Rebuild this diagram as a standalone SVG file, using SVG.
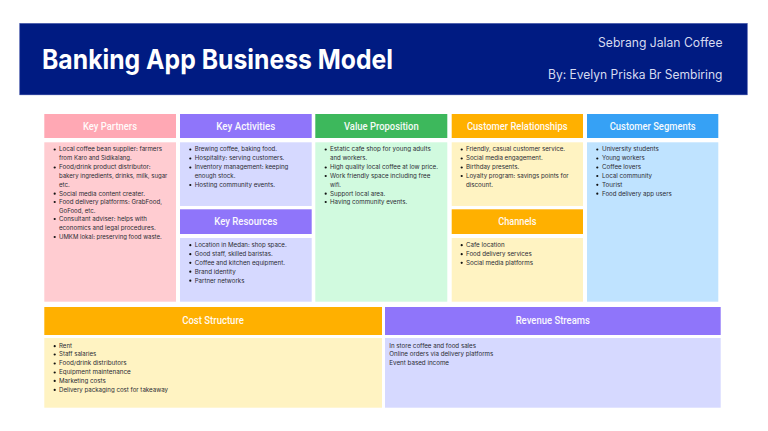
<svg xmlns="http://www.w3.org/2000/svg" width="768" height="431" viewBox="0 0 768 431">
<style>
text{font-family:"Inter","Liberation Sans",sans-serif}
.h{font-family:"Roboto","Liberation Sans",sans-serif;font-size:10px;font-weight:500;fill:#fff;opacity:.95;text-anchor:middle}
.b{font-size:5.5px;fill:#2c2c34}
.d{fill:#111}
.pink{fill:#ffa8b4}.pinkb{fill:#ffccd1}
.pur{fill:#8f75fa}.purb{fill:#d6d9ff}
.grn{fill:#3db85c}.grnb{fill:#d1fadf}
.org{fill:#ffb000}.orgb{fill:#fff3c2}
.blu{fill:#36a1f5}.blub{fill:#bfe3ff}
</style>
<rect width="768" height="431" fill="#fff"/>
<g id="banner">
<rect x="19.8" y="23.6" width="727.4" height="71.2" fill="#001b82" stroke="#22399a" stroke-width=".6"/>
<text x="42" y="69" font-size="27.5" font-weight="700" fill="#fff" textLength="351" lengthAdjust="spacingAndGlyphs">Banking App Business Model</text>
<text x="598" y="47" font-size="12.5" fill="#d5daf0" textLength="124.5" lengthAdjust="spacingAndGlyphs">Sebrang Jalan Coffee</text>
<text x="548" y="79" font-size="12.5" fill="#d5daf0" textLength="174.5" lengthAdjust="spacingAndGlyphs">By: Evelyn Priska Br Sembiring</text>
</g>
<g id="key-partners">
<rect class="pink" x="44.3" y="114" width="131.7" height="24"/>
<rect class="pinkb" x="44.3" y="142.3" width="131.7" height="159.4"/>
<text class="h" x="110" y="129.6" textLength="54" lengthAdjust="spacingAndGlyphs">Key Partners</text>
<circle class="d" cx="54.7" cy="149.5" r="1.1"/><circle class="d" cx="54.7" cy="167.5" r="1.1"/><circle class="d" cx="54.7" cy="193.7" r="1.1"/><circle class="d" cx="54.7" cy="202" r="1.1"/><circle class="d" cx="54.7" cy="219" r="1.1"/><circle class="d" cx="54.7" cy="237" r="1.1"/>
<text class="b" x="59" y="151.4" textLength="103" lengthAdjust="spacingAndGlyphs">Local coffee bean supplier: farmers</text>
<text class="b" x="59" y="160.4" textLength="72.7" lengthAdjust="spacingAndGlyphs">from Karo and Sidikalang.</text>
<text class="b" x="59" y="169.4" textLength="91.7" lengthAdjust="spacingAndGlyphs">Food/drink product distributor:</text>
<text class="b" x="59" y="178" textLength="108.3" lengthAdjust="spacingAndGlyphs">bakery ingredients, drinks, milk, sugar</text>
<text class="b" x="59" y="186.8" textLength="10.7" lengthAdjust="spacingAndGlyphs">etc.</text>
<text class="b" x="59" y="195.7" textLength="86" lengthAdjust="spacingAndGlyphs">Social media content creater.</text>
<text class="b" x="59" y="204" textLength="103" lengthAdjust="spacingAndGlyphs">Food delivery platforms: GrabFood,</text>
<text class="b" x="59" y="213" textLength="36.5" lengthAdjust="spacingAndGlyphs">GoFood, etc.</text>
<text class="b" x="59" y="221" textLength="88" lengthAdjust="spacingAndGlyphs">Consultant adviser: helps with</text>
<text class="b" x="59" y="230" textLength="96.7" lengthAdjust="spacingAndGlyphs">economics and legal procedures.</text>
<text class="b" x="59" y="239" textLength="102.7" lengthAdjust="spacingAndGlyphs">UMKM lokal: preserving food waste.</text>
</g>
<g id="key-activities">
<rect class="pur" x="180" y="114" width="131.7" height="24"/>
<rect class="purb" x="180" y="142.3" width="131.7" height="63.7"/>
<text class="h" x="245.8" y="129.6" textLength="59" lengthAdjust="spacingAndGlyphs">Key Activities</text>
<circle class="d" cx="190.3" cy="149.5" r="1.1"/><circle class="d" cx="190.3" cy="158.5" r="1.1"/><circle class="d" cx="190.3" cy="167.5" r="1.1"/><circle class="d" cx="190.3" cy="185" r="1.1"/>
<text class="b" x="194.7" y="151.4" textLength="82.3" lengthAdjust="spacingAndGlyphs">Brewing coffee, baking food.</text>
<text class="b" x="194.7" y="160.4" textLength="89.7" lengthAdjust="spacingAndGlyphs">Hospitality: serving customers.</text>
<text class="b" x="194.7" y="169.4" textLength="93.7" lengthAdjust="spacingAndGlyphs">Inventory management: keeping</text>
<text class="b" x="194.7" y="178" textLength="40.7" lengthAdjust="spacingAndGlyphs">enough stock.</text>
<text class="b" x="194.7" y="186.8" textLength="80.3" lengthAdjust="spacingAndGlyphs">Hosting community events.</text>
</g>
<g id="key-resources">
<rect class="pur" x="180" y="209.3" width="131.7" height="24.7"/>
<rect class="purb" x="180" y="238" width="131.7" height="63.7"/>
<text class="h" x="245.8" y="225.3" textLength="63" lengthAdjust="spacingAndGlyphs">Key Resources</text>
<circle class="d" cx="190.3" cy="245.2" r="1.1"/><circle class="d" cx="190.3" cy="254.2" r="1.1"/><circle class="d" cx="190.3" cy="262.8" r="1.1"/><circle class="d" cx="190.3" cy="271.7" r="1.1"/><circle class="d" cx="190.3" cy="280.7" r="1.1"/>
<text class="b" x="194.7" y="247.1" textLength="92" lengthAdjust="spacingAndGlyphs">Location in Medan: shop space.</text>
<text class="b" x="194.7" y="256.1" textLength="78" lengthAdjust="spacingAndGlyphs">Good staff, skilled baristas.</text>
<text class="b" x="194.7" y="264.7" textLength="90.3" lengthAdjust="spacingAndGlyphs">Coffee and kitchen equipment.</text>
<text class="b" x="194.7" y="273.6" textLength="41" lengthAdjust="spacingAndGlyphs">Brand identity</text>
<text class="b" x="194.7" y="282.6" textLength="49.7" lengthAdjust="spacingAndGlyphs">Partner networks</text>
</g>
<g id="value-proposition">
<rect class="grn" x="315.3" y="114" width="132" height="24"/>
<rect class="grnb" x="315.3" y="142.3" width="132" height="159.4"/>
<text class="h" x="381.3" y="129.6" textLength="74.7" lengthAdjust="spacingAndGlyphs">Value Proposition</text>
<circle class="d" cx="325.7" cy="149.5" r="1.1"/><circle class="d" cx="325.7" cy="167.5" r="1.1"/><circle class="d" cx="325.7" cy="176" r="1.1"/><circle class="d" cx="325.7" cy="193.7" r="1.1"/><circle class="d" cx="325.7" cy="202" r="1.1"/>
<text class="b" x="330" y="151.4" textLength="100.7" lengthAdjust="spacingAndGlyphs">Estatic cafe shop for young adults</text>
<text class="b" x="330" y="160.4" textLength="37.3" lengthAdjust="spacingAndGlyphs">and workers.</text>
<text class="b" x="330" y="169.4" textLength="108" lengthAdjust="spacingAndGlyphs">High quality local coffee at low price.</text>
<text class="b" x="330" y="178" textLength="100.3" lengthAdjust="spacingAndGlyphs">Work friendly space including free</text>
<text class="b" x="330" y="186.8" textLength="11" lengthAdjust="spacingAndGlyphs">wifi.</text>
<text class="b" x="330" y="195.7" textLength="55.3" lengthAdjust="spacingAndGlyphs">Support local area.</text>
<text class="b" x="330" y="204" textLength="77.3" lengthAdjust="spacingAndGlyphs">Having community events.</text>
</g>
<g id="customer-relationships">
<rect class="org" x="451.7" y="114" width="131.3" height="24"/>
<rect class="orgb" x="451.7" y="142.3" width="131.3" height="63.7"/>
<text class="h" x="517.3" y="129.6" textLength="100.7" lengthAdjust="spacingAndGlyphs">Customer Relationships</text>
<circle class="d" cx="461.7" cy="149.5" r="1.1"/><circle class="d" cx="461.7" cy="158.5" r="1.1"/><circle class="d" cx="461.7" cy="167.5" r="1.1"/><circle class="d" cx="461.7" cy="176" r="1.1"/>
<text class="b" x="466" y="151.4" textLength="99" lengthAdjust="spacingAndGlyphs">Friendly, casual customer service.</text>
<text class="b" x="466" y="160.4" textLength="76.7" lengthAdjust="spacingAndGlyphs">Social media engagement.</text>
<text class="b" x="466" y="169.4" textLength="53.3" lengthAdjust="spacingAndGlyphs">Birthday presents.</text>
<text class="b" x="466" y="178" textLength="102.7" lengthAdjust="spacingAndGlyphs">Loyalty program: savings points for</text>
<text class="b" x="466" y="186.8" textLength="27" lengthAdjust="spacingAndGlyphs">discount.</text>
</g>
<g id="channels">
<rect class="org" x="451.7" y="209.3" width="131.3" height="24.7"/>
<rect class="orgb" x="451.7" y="238" width="131.3" height="63.7"/>
<text class="h" x="517.3" y="225.3" textLength="38.3" lengthAdjust="spacingAndGlyphs">Channels</text>
<circle class="d" cx="461.7" cy="245.2" r="1.1"/><circle class="d" cx="461.7" cy="254.2" r="1.1"/><circle class="d" cx="461.7" cy="262.8" r="1.1"/>
<text class="b" x="466" y="247.1" textLength="38.7" lengthAdjust="spacingAndGlyphs">Cafe location</text>
<text class="b" x="466" y="256.1" textLength="65.7" lengthAdjust="spacingAndGlyphs">Food delivery services</text>
<text class="b" x="466" y="264.7" textLength="67" lengthAdjust="spacingAndGlyphs">Social media platforms</text>
</g>
<g id="customer-segments">
<rect class="blu" x="587" y="114" width="131.3" height="24"/>
<rect class="blub" x="587" y="142.3" width="131.3" height="159.4"/>
<text class="h" x="652.7" y="129.6" textLength="86" lengthAdjust="spacingAndGlyphs">Customer Segments</text>
<circle class="d" cx="597.3" cy="149.5" r="1.1"/><circle class="d" cx="597.3" cy="158.5" r="1.1"/><circle class="d" cx="597.3" cy="167.5" r="1.1"/><circle class="d" cx="597.3" cy="176" r="1.1"/><circle class="d" cx="597.3" cy="184.8" r="1.1"/><circle class="d" cx="597.3" cy="193.7" r="1.1"/>
<text class="b" x="602" y="151.4" textLength="56.7" lengthAdjust="spacingAndGlyphs">University students</text>
<text class="b" x="602" y="160.4" textLength="42.7" lengthAdjust="spacingAndGlyphs">Young workers</text>
<text class="b" x="602" y="169.4" textLength="39" lengthAdjust="spacingAndGlyphs">Coffee lovers</text>
<text class="b" x="602" y="178" textLength="50" lengthAdjust="spacingAndGlyphs">Local community</text>
<text class="b" x="602" y="186.8" textLength="20.3" lengthAdjust="spacingAndGlyphs">Tourist</text>
<text class="b" x="602" y="195.7" textLength="69.7" lengthAdjust="spacingAndGlyphs">Food delivery app users</text>
</g>
<g id="cost-structure">
<rect class="org" x="44.3" y="307" width="337.7" height="28"/>
<rect class="orgb" x="44.3" y="338" width="337.7" height="69.7"/>
<text class="h" x="213" y="324.2" textLength="61.7" lengthAdjust="spacingAndGlyphs">Cost Structure</text>
<circle class="d" cx="54.7" cy="346.2" r="1.1"/><circle class="d" cx="54.7" cy="354.5" r="1.1"/><circle class="d" cx="54.7" cy="363.5" r="1.1"/><circle class="d" cx="54.7" cy="372.5" r="1.1"/><circle class="d" cx="54.7" cy="380.9" r="1.1"/><circle class="d" cx="54.7" cy="389.9" r="1.1"/>
<text class="b" x="59" y="348" textLength="13" lengthAdjust="spacingAndGlyphs">Rent</text>
<text class="b" x="59" y="356.3" textLength="37.3" lengthAdjust="spacingAndGlyphs">Staff salaries</text>
<text class="b" x="59" y="365.3" textLength="67.7" lengthAdjust="spacingAndGlyphs">Food/drink distributors</text>
<text class="b" x="59" y="374.3" textLength="71.7" lengthAdjust="spacingAndGlyphs">Equipment maintenance</text>
<text class="b" x="59" y="382.7" textLength="46.7" lengthAdjust="spacingAndGlyphs">Marketing costs</text>
<text class="b" x="59" y="391.7" textLength="109" lengthAdjust="spacingAndGlyphs">Delivery packaging cost for takeaway</text>
</g>
<g id="revenue-streams">
<rect class="pur" x="385" y="307" width="335.7" height="28"/>
<rect class="purb" x="385" y="338" width="335.7" height="69.7"/>
<text class="h" x="552.8" y="324.2" textLength="74.3" lengthAdjust="spacingAndGlyphs">Revenue Streams</text>
<text class="b" x="389.3" y="348" textLength="86.7" lengthAdjust="spacingAndGlyphs">In store coffee and food sales</text>
<text class="b" x="389.3" y="356.3" textLength="104" lengthAdjust="spacingAndGlyphs">Online orders via delivery platforms</text>
<text class="b" x="389.3" y="365.3" textLength="59.7" lengthAdjust="spacingAndGlyphs">Event based income</text>
</g>
</svg>
